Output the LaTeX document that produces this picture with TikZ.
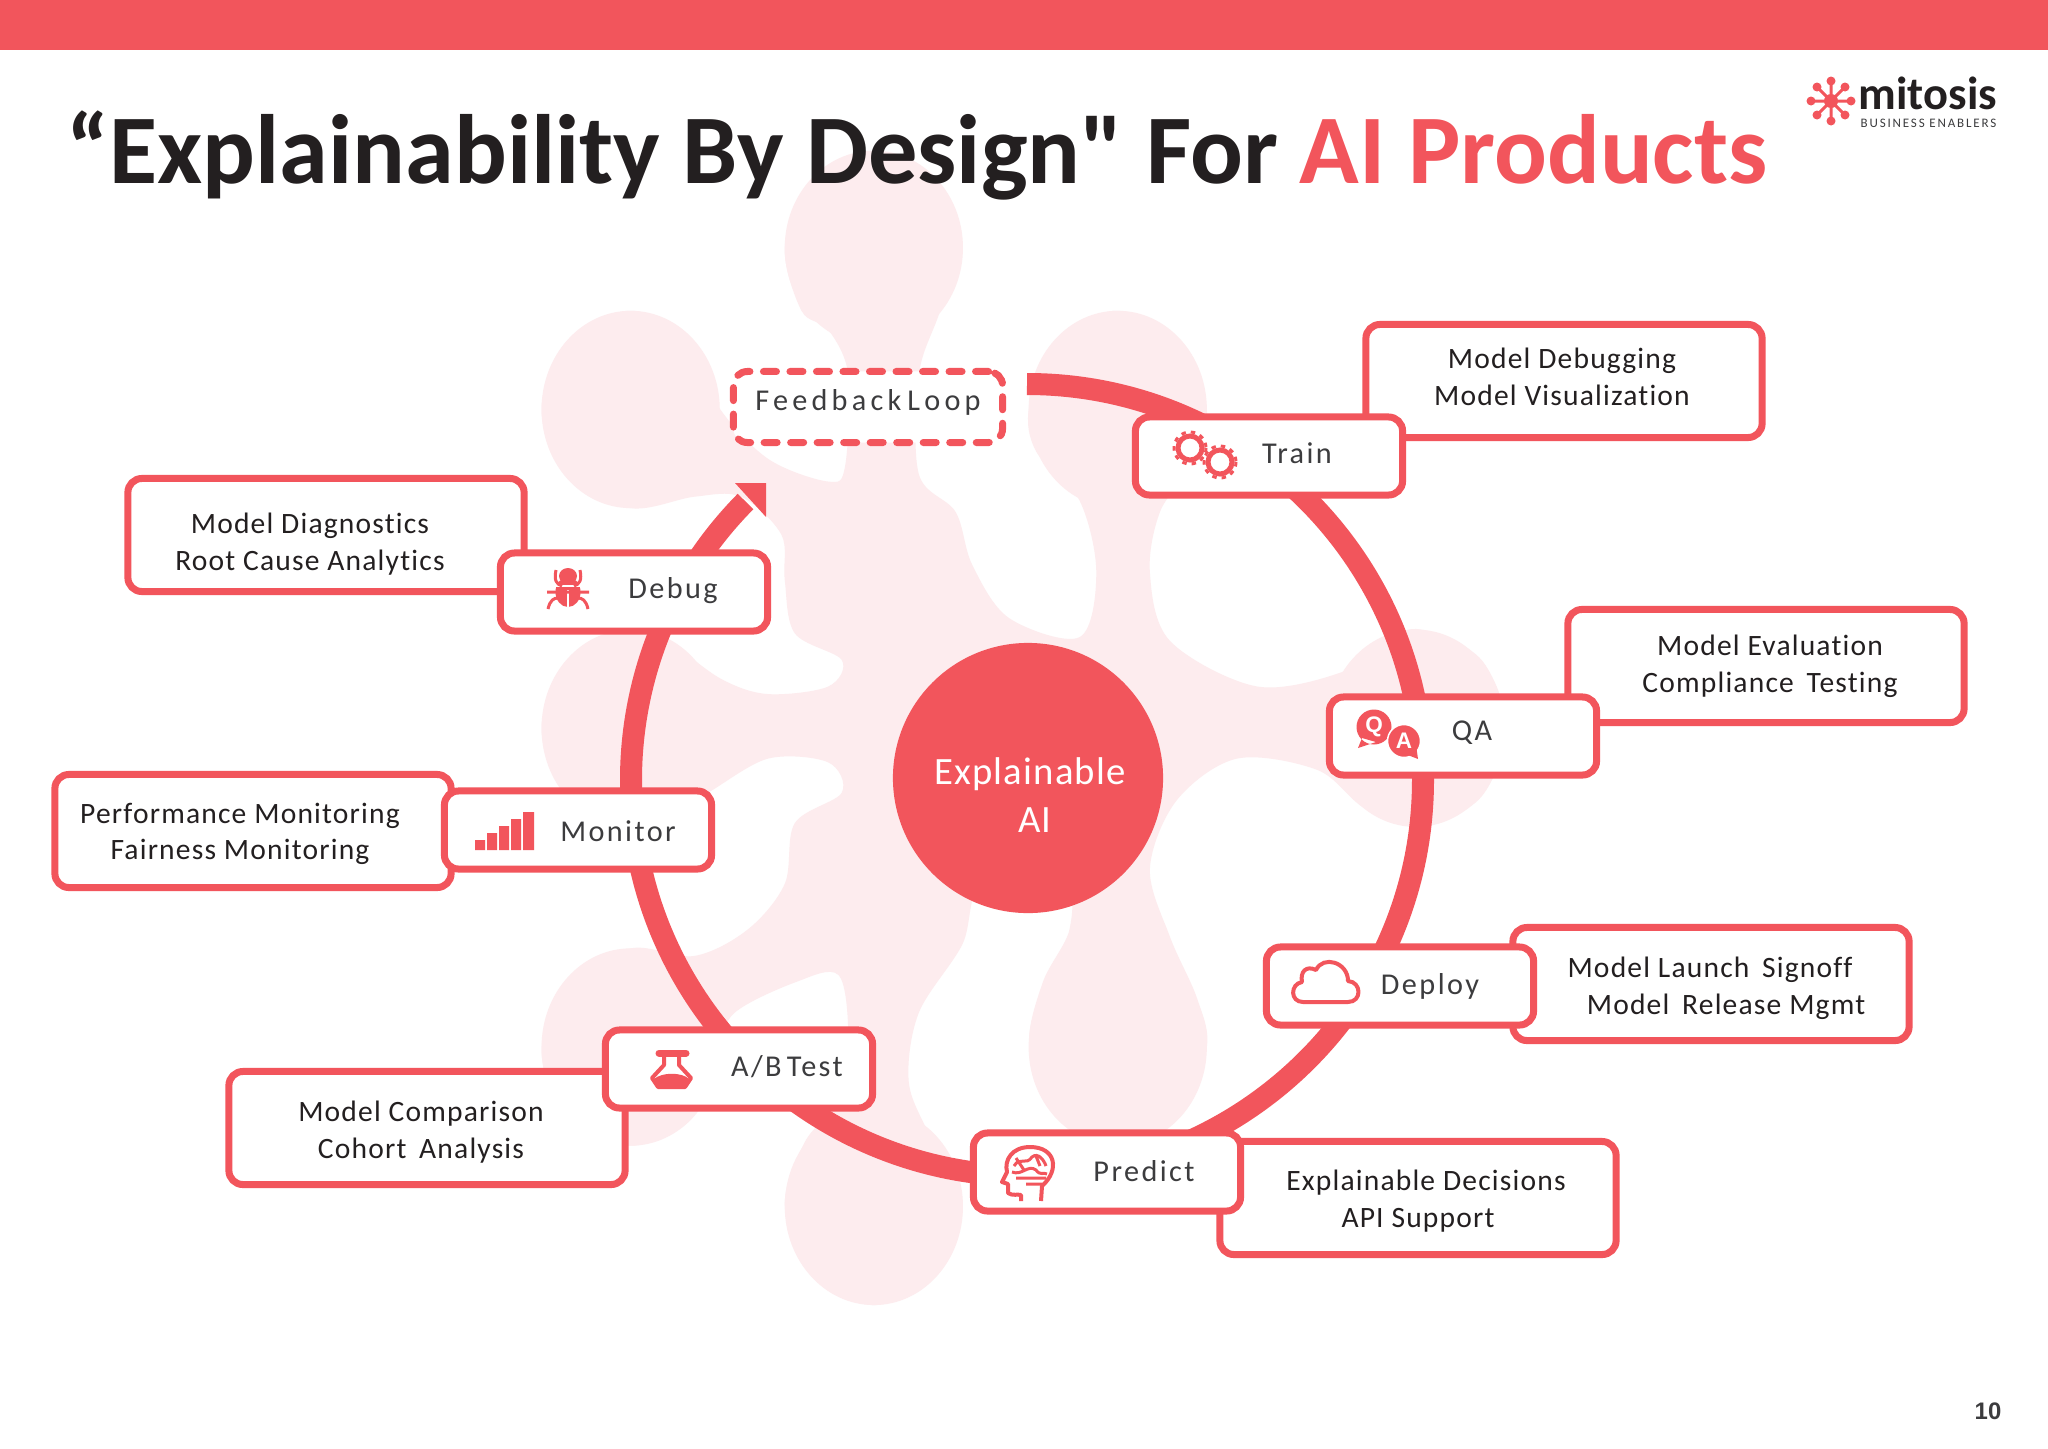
\documentclass[tikz,border=0pt]{standalone}
\usepackage{fontspec}
\setmainfont{Carlito}
\newfontfamily\titlefont{Carlito}
\newfontfamily\stagefont[LetterSpace=8,WordSpace=0.55,Ligatures=CommonOff]{Carlito}
\newfontfamily\loopfont[LetterSpace=14,WordSpace=0.55,Ligatures=CommonOff]{Carlito}
\newfontfamily\sidefont[LetterSpace=4,Ligatures=CommonOff]{Carlito}
\newfontfamily\hubfont[LetterSpace=3]{Carlito}
\newfontfamily\pagefont{Liberation Sans}
\usepackage{xcolor}
\definecolor{coral}{RGB}{242,85,92}
\definecolor{blush}{RGB}{253,236,238}
\definecolor{inkdark}{RGB}{35,31,32}
\definecolor{inkgrey}{RGB}{60,60,62}
\usepackage{tikz}
\tikzstyle{stagebox} = [rectangle, rounded corners=.14cm, draw=coral, fill=white,
  line width=.07cm, minimum width=2.67cm, minimum height=.78cm]
\tikzstyle{sidebox} = [rectangle, rounded corners=.14cm, draw=coral, fill=white,
  line width=.07cm, minimum width=3.96cm, minimum height=1.13cm]
\tikzstyle{stagetext} = [inner sep=0pt, text=inkgrey,
  font=\stagefont\fontsize{8.6}{10}\selectfont]
\tikzstyle{sidetext} = [inner sep=0pt, text=inkdark, align=center,
  font=\sidefont\fontsize{8.4}{10.4}\selectfont]
\tikzstyle{ringline} = [draw=coral, line width=.22cm]
\tikzstyle{iconline} = [draw=coral, line width=.04cm]

\begin{document}
\begin{tikzpicture}[x=.01cm, y=-.01cm]
  \useasboundingbox (0,0) rectangle (2048,1448);
  \fill[white] (0,0) rectangle (2048,1448);
  \fill[coral] (0,0) rectangle (2048,50);
  % watermark
  \begin{scope}[shift={(500,140)}, xscale=.67, yscale=.759]
    \fill[blush] plot[smooth cycle, tension=.55] coordinates {
      (558,15) (650,55) (690,140) (655,230) (625,310) (625,440) (680,490) (705,560)
      (760,630) (865,655) (890,570) (865,475) (800,410) (790,350) (830,265) (920,225)
      (1010,265) (1055,355) (1030,430) (985,490) (970,570) (1000,660) (1130,720)
      (1260,700) (1320,660) (1375,645) (1465,685) (1500,775) (1465,865) (1375,905)
      (1290,880) (1220,830) (1100,815) (1010,870) (970,960) (1000,1050) (1040,1130)
      (1055,1195) (1015,1285) (920,1325) (830,1285) (790,1195) (810,1110) (850,1040)
      (840,980) (720,980) (690,1060) (625,1150) (610,1240) (640,1310) (690,1405)
      (650,1495) (558,1535) (465,1495) (425,1405) (455,1320) (510,1260) (520,1180)
      (505,1100) (440,1110) (350,1150) (325,1200) (285,1290) (195,1325) (100,1290)
      (62,1200) (100,1110) (195,1065) (290,1075) (370,1040) (425,980) (440,900)
      (510,860) (490,820) (400,815) (310,860) (285,865) (195,905) (100,865) (62,775)
      (100,690) (195,645) (250,660) (330,710) (400,730) (490,720) (510,685) (440,650)
      (425,580) (420,520) (360,470) (290,470) (195,485) (100,445) (62,355) (100,265)
      (195,225) (285,265) (325,350) (400,420) (490,450) (515,430) (520,310) (490,250)
      (450,225) (425,140) (465,55)};
    \fill[blush] (558,142) ellipse (133 and 128) (195,355) ellipse (133 and 130)
      (195,775) ellipse (133 and 130) (195,1195) ellipse (133 and 130)
      (558,1405) ellipse (133 and 130) (922,1195) ellipse (133 and 130)
      (1367,775) ellipse (133 and 130) (922,355) ellipse (133 and 130);
  \end{scope}
  % title
  \node[anchor=base west, inner sep=0pt, text=inkdark, font=\titlefont\fontsize{28}{30}\selectfont\bfseries]
    (title) at (66,183) {“Explainability By Design" For \textcolor{coral}{AI Products}};
  % logo
  \draw[coral, line width=.03cm] (1811,101) -- (1851,101) (1831,81) -- (1831,121)
    (1817,87) -- (1845,115) (1817,115) -- (1845,87);
  \fill[coral] (1831,101) circle (7) (1811,101) circle (4.5) (1851,101) circle (4.5)
    (1831,81) circle (4.5) (1831,121) circle (4.5) (1817,87) circle (4.5)
    (1845,115) circle (4.5) (1817,115) circle (4.5) (1845,87) circle (4.5);
  \node[anchor=base west, inner sep=0pt, text=inkdark, font=\fontsize{13.2}{14}\selectfont\bfseries]
    (logoname) at (1858,109) {mitosis};
  \node[anchor=base west, inner sep=0pt, text=inkgrey, font=\fontsize{3.7}{4}\selectfont\addfontfeature{LetterSpace=14}]
    (logotag) at (1860,127) {BUSINESS ENABLERS};
  % side boxes
  \node[sidebox] (trainside) at (1564,381) {};
  \node[sidebox] (qaside) at (1766,666) {};
  \node[sidebox] (deployside) at (1711,984) {};
  \node[sidebox] (predictside) at (1418,1198) {};
  \node[sidebox] (abside) at (427,1128) {};
  \node[sidebox] (monitorside) at (253,831) {};
  \node[sidebox] (debugside) at (326,535) {};
  \node[sidetext, xshift=-.02cm, yshift=.04cm] (traintext) at (trainside) {Model Debugging\\Model Visualization};
  \node[sidetext, xshift=.04cm] (qatext) at (qaside) {Model Evaluation\\Compliance\, Testing};
  \node[sidetext, xshift=.14cm, yshift=-.04cm] (deploytext) at (deployside) {Model Launch\, Signoff\hspace*{.3cm}\\\hspace*{.02cm}Model\, Release Mgmt};
  \node[sidetext, xshift=.08cm, yshift=-.03cm] (predicttext) at (predictside) {Explainable Decisions\\API Support\hspace*{.16cm}};
  \node[sidetext, xshift=-.06cm, yshift=-.04cm] (abtext) at (abside) {Model Comparison\\Cohort\, Analysis};
  \node[sidetext, xshift=-.13cm, yshift=-.03cm] (monitortext) at (monitorside) {Performance Monitoring\\Fairness Monitoring};
  \node[sidetext, xshift=-.16cm, yshift=-.09cm] (debugtext) at (debugside) {Model Diagnostics\\Root Cause Analytics};
  % ring
  \coordinate (ringtop) at (1027,384);
  \draw[ringline] (ringtop) arc[start angle=-90, end angle=224.7, radius=396];
  \fill[coral] (735,483) -- (766,483) -- (766,517) -- cycle;
  % hub
  \node[circle, fill=coral, inner sep=0pt, minimum size=2.7cm] (hub) at (1028,778) {};
  \node[inner sep=0pt, text=white, align=center, font=\hubfont\fontsize{11}{13.7}\selectfont]
    (hubtext) at (1030,795) {Explainable\\\hspace*{.1cm}AI};
  % feedback
  \node[rectangle, rounded corners=.14cm, draw=coral, fill=white, line width=.07cm,
    line cap=round, dash pattern=on .13cm off .135cm, minimum width=2.69cm, minimum height=.71cm]
    (feedbackbox) at (868,407) {};
  \node[inner sep=0pt, text=inkgrey, font=\loopfont\fontsize{8.6}{10}\selectfont]
    (feedbacktext) at (868,402) {Feedback Loop};
  % stage boxes
  \node[stagebox] (trainbox) at (1269,456) {};
  \node[stagebox] (qabox) at (1463,736) {};
  \node[stagebox] (deploybox) at (1400,986) {};
  \node[stagebox] (predictbox) at (1107,1172) {};
  \node[stagebox] (abbox) at (739,1069) {};
  \node[stagebox] (monitorbox) at (578,830) {};
  \node[stagebox] (debugbox) at (634,592) {};
  \node[stagetext] (trainlabel) at (1297,453) {Train};
  \node[stagetext] (qalabel) at (1472,733) {QA};
  \node[stagetext] (deploylabel) at (1430,986) {Deploy};
  \node[stagetext] (predictlabel) at (1144,1171) {Predict};
  \node[stagetext] (ablabel) at (787,1067) {A/B Test};
  \node[stagetext] (monitorlabel) at (618,831) {Monitor};
  \node[stagetext] (debuglabel) at (673,591) {Debug};
  % gears
  \draw[coral, line width=.03cm, dash pattern=on .045cm off .05cm] (1190,448) circle (16);
  \draw[coral, line width=.05cm] (1190,448) circle (12);
  \draw[coral, line width=.03cm, dash pattern=on .045cm off .05cm] (1220,462) circle (16);
  \draw[coral, line width=.05cm] (1220,462) circle (12);
  % qa
  \fill[coral] (1374,727) circle (17.5) (1362,738) -- (1358,748) -- (1376,742) -- cycle;
  \fill[coral, draw=white, line width=.015cm] (1404,741) circle (16.5);
  \fill[coral] (1400,752) -- (1418,759) -- (1416,745) -- cycle;
  \node[inner sep=0pt, text=white, font=\pagefont\fontsize{6.4}{7}\selectfont\bfseries] (qamarkq) at (1374,727) {Q};
  \node[inner sep=0pt, text=white, font=\pagefont\fontsize{6.4}{7}\selectfont\bfseries] (qamarka) at (1404,741) {A};
  % cloud
  \draw[iconline, line join=round] (1303,1002) -- (1348,1002) .. controls (1362,1002) and (1362,982) .. (1348,981)
    .. controls (1348,962) and (1323,955) .. (1316,970) .. controls (1306,965) and (1300,972) .. (1302,982)
    .. controls (1290,984) and (1290,1002) .. (1303,1002) -- cycle;
  % head
  \draw[iconline, line join=round] (1041,1201) -- (1042,1186) .. controls (1060,1170) and (1056,1147) .. (1030,1147)
    .. controls (1012,1147) and (1004,1160) .. (1007,1172) -- (1002,1182) -- (1008,1184) -- (1008,1193)
    .. controls (1012,1196) and (1018,1194) .. (1021,1195) -- (1021,1201);
  \draw[coral, line width=.03cm] (1014,1166) .. controls (1020,1156) and (1026,1166) .. (1032,1157)
    .. controls (1038,1152) and (1044,1160) .. (1046,1166)
    (1012,1172) .. controls (1022,1176) and (1028,1164) .. (1036,1170) .. controls (1040,1176) and (1044,1172) .. (1047,1174)
    (1016,1158) -- (1024,1170) (1036,1156) -- (1040,1166)
    (1016,1178) -- (1046,1178) (1026,1184) -- (1042,1184);
  % flask
  \draw[coral, line width=.07cm, line cap=round] (659,1053) -- (686,1053);
  \draw[iconline, line join=round] (664,1055) -- (664,1065) -- (652,1078) -- (658,1087) -- (685,1087) -- (691,1078) -- (679,1065) -- (679,1055);
  \fill[coral] (654,1079) .. controls (662,1072) and (682,1072) .. (689,1079) -- (684,1087) -- (659,1087) -- cycle;
  % bars
  \fill[coral] (475,840) rectangle (485,850) (487,833) rectangle (497,850) (499,826) rectangle (509,850)
    (511,819) rectangle (521,850) (523,812) rectangle (534,850);
  % bug
  \fill[coral] (568,592) ellipse (12.5 and 15) (568,576) ellipse (9 and 8);
  \draw[white, line width=.012cm] (568,590) -- (568,607) (556,586) -- (580,586);
  \draw[coral, line width=.03cm] (556,570) .. controls (554,580) and (556,584) .. (562,586)
    (580,570) .. controls (582,580) and (580,584) .. (574,586)
    (547,592) -- (589,592)
    (548,609) .. controls (550,600) and (554,598) .. (558,598)
    (588,609) .. controls (586,600) and (582,598) .. (578,598);
  % page number
  \node[inner sep=0pt, text=inkgrey, font=\pagefont\fontsize{6.8}{8}\selectfont\bfseries] (pagenumber) at (1988,1411) {10};
\end{tikzpicture}
\end{document}
